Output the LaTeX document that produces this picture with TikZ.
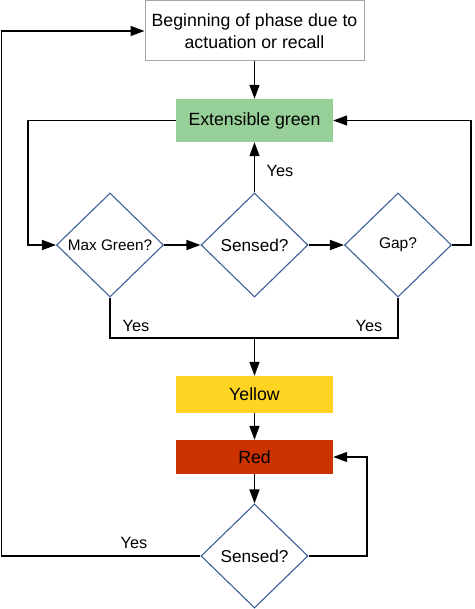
\documentclass[tikz,border=0pt]{standalone}
\usepackage{fontspec}
\setmainfont{Liberation Sans}
\usetikzlibrary{shapes.geometric,arrows.meta}
\definecolor{grn}{HTML}{97CF98}
\definecolor{yel}{HTML}{FED322}
\definecolor{redf}{HTML}{CD3300}
\definecolor{dblue}{HTML}{3E5F98}
\definecolor{boxgray}{HTML}{A6A6A6}
\begin{document}
\begin{tikzpicture}[x=1pt,y=-1pt,>={Triangle[length=14pt,width=10pt]}]
\useasboundingbox (0,0) rectangle (474,609);
\tikzset{
 boxnode/.style={rectangle, minimum width=157pt, inner sep=0pt, font=\fontsize{17.7}{21.5}\selectfont},
 dec/.style={diamond, draw=dblue, line width=1.1pt, fill=white, minimum width=107pt, minimum height=104pt, inner sep=0pt},
 flow/.style={draw=black, line width=1.5pt, ->},
 plain/.style={draw=black, line width=1.5pt},
 lbl/.style={font=\fontsize{16.3}{19}\selectfont, inner sep=0pt}
}
\node[boxnode, draw=boxgray, line width=1pt, fill=white, minimum width=219pt, minimum height=60pt, align=center] (start) at (254.5,31) {Beginning of phase due to\\actuation or recall};
\node[boxnode, fill=grn, minimum height=43pt] (green) at (254.5,120.5) {Extensible green};
\node[dec, font=\fontsize{15.3}{18}\selectfont] (max) at (110,245) {Max Green?};
\node[dec, font=\fontsize{17.2}{20}\selectfont] (s1) at (254.5,245) {Sensed?};
\node[dec, font=\fontsize{15.5}{18}\selectfont] (gap) at (398,245) {Gap?};
\node[boxnode, fill=yel, minimum height=37pt] (yellow) at (254.5,394.5) {Yellow};
\node[boxnode, fill=redf, minimum height=34pt] (red) at (254.5,457) {Red};
\node[dec, font=\fontsize{17.2}{20}\selectfont] (s2) at (254.5,556) {Sensed?};

\coordinate (lx) at (28,0);
\coordinate (rx) at (471,0);
\coordinate (jn) at (254.5,338);
\coordinate (rx2) at (367,0);
\coordinate (lx2) at (1.5,0);

\draw[flow] (start) -- (green);
\draw[flow] (green.west) -| (lx |- max.west) -- (max.west);
\draw[flow] (max) -- (s1);
\draw[flow] (s1) -- (gap);
\draw[flow] (s1) -- (green);
\draw[flow] (gap.east) -| (rx |- green.east) -- (green.east);
\draw[plain] (max.south) -- (max.south |- jn) -- (gap.south |- jn) -- (gap.south);
\draw[flow] (jn) -- (yellow);
\draw[flow] (yellow) -- (red);
\draw[flow] (red) -- (s2);
\draw[flow] (s2.east) -| (rx2 |- red.east) -- (red.east);
\draw[flow] (s2.west) -| (lx2 |- start.west) -- (start.west);

\node[lbl] (y1) at (280,171) {Yes};
\node[lbl] (y2) at (136,326) {Yes};
\node[lbl] (y3) at (369,326) {Yes};
\node[lbl] (y4) at (134,543) {Yes};
\end{tikzpicture}
\end{document}
